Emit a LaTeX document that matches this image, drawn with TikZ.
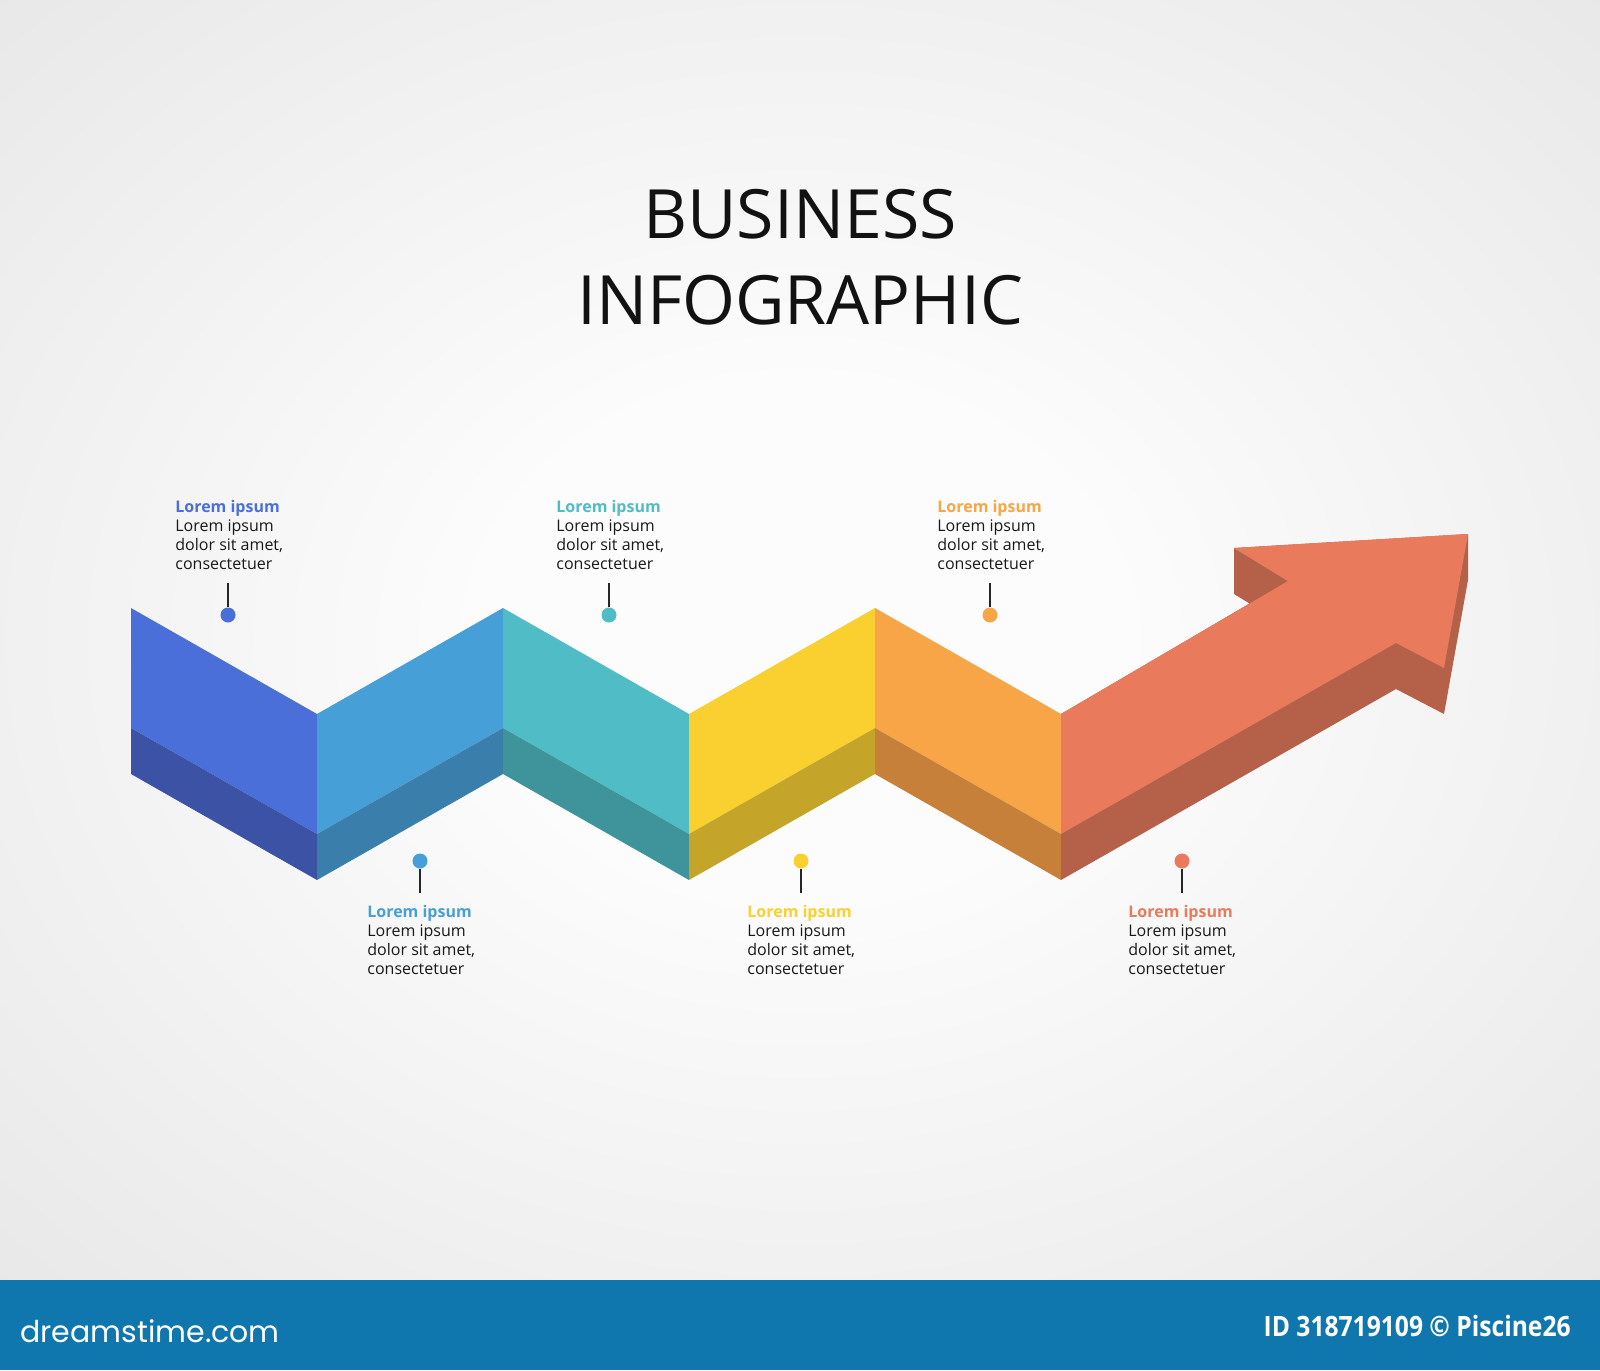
\documentclass[tikz,border=0pt]{standalone}
\usepackage{fontspec}
\setmainfont{Open Sans}
\newfontfamily\bandfont{Poppins}
\usepackage{tikz}

\definecolor{segBlue}{HTML}{4B6FD9}
\definecolor{segBlueD}{HTML}{3B52A5}
\definecolor{segSky}{HTML}{469FD7}
\definecolor{segSkyD}{HTML}{3A7FAC}
\definecolor{segTeal}{HTML}{50BCC5}
\definecolor{segTealD}{HTML}{3F949B}
\definecolor{segYellow}{HTML}{F9D030}
\definecolor{segYellowD}{HTML}{C4A52A}
\definecolor{segOrange}{HTML}{F8A547}
\definecolor{segOrangeD}{HTML}{C6803A}
\definecolor{segRed}{HTML}{E97A5C}
\definecolor{segRedD}{HTML}{B5614A}
\definecolor{bandBlue}{HTML}{0F76AE}
\definecolor{bgOut}{HTML}{DDDDDD}
\definecolor{bgIn}{HTML}{FCFCFC}

\pgfdeclareradialshading{bgglow}{\pgfpoint{0bp}{0bp}}{color(0bp)=(bgIn); color(10bp)=(bgIn); color(50bp)=(bgOut); color(75bp)=(bgOut)}

\tikzset{
  infotext/.style={anchor=base west, align=left, inner sep=0pt, text=black!90, font=\fontsize{8}{9.5}\selectfont},
  titletext/.style={anchor=base, inner sep=0pt, text=black!93, font=\fontsize{34}{40}\selectfont},
  pindot/.style={circle, inner sep=0pt, minimum size=7.5pt},
  pinline/.style={line width=0.8pt, draw=black!85},
}

\begin{document}
\begin{tikzpicture}[x=0.5pt, y=-0.5pt]
  \useasboundingbox (0,0) rectangle (1600,1370);
  \shade[shading=bgglow] (0,0) rectangle (1600,1280);
  \fill[bandBlue] (0,1280) rectangle (1600,1370);

  % title
  \node[titletext] (title1) at (800,238) {BUSINESS};
  \node[titletext] (title2) at (800,324) {INFOGRAPHIC};

  % zigzag band
  \fill[segBlue] (131,608) -- (317,714) -- (317,834) -- (131,728) -- cycle;
  \fill[segBlueD] (131,728) -- (317,834) -- (317,880) -- (131,774) -- cycle;
  \fill[segSky] (317,714) -- (503,608) -- (503,728) -- (317,834) -- cycle;
  \fill[segSkyD] (317,834) -- (503,728) -- (503,774) -- (317,880) -- cycle;
  \fill[segTeal] (503,608) -- (689,714) -- (689,834) -- (503,728) -- cycle;
  \fill[segTealD] (503,728) -- (689,834) -- (689,880) -- (503,774) -- cycle;
  \fill[segYellow] (689,714) -- (875,608) -- (875,728) -- (689,834) -- cycle;
  \fill[segYellowD] (689,834) -- (875,728) -- (875,774) -- (689,880) -- cycle;
  \fill[segOrange] (875,608) -- (1061,714) -- (1061,834) -- (875,728) -- cycle;
  \fill[segOrangeD] (875,728) -- (1061,834) -- (1061,880) -- (875,774) -- cycle;

  % arrow
  \coordinate (p0) at (1061,714);
  \coordinate (n) at (1288,581);
  \coordinate (b) at (1234,548);
  \coordinate (t) at (1468,534);
  \coordinate (l) at (1444,668);
  \coordinate (m) at (1396,643);
  \coordinate (p1) at (1061,834);
  \coordinate (n2) at (1288,627);
  \coordinate (b2) at (1234,594);
  \coordinate (t2) at (1468,580);
  \coordinate (l2) at (1444,714);
  \coordinate (m2) at (1396,689);
  \coordinate (p12) at (1061,880);
  \fill[segRedD] (p0) -- (n) -- (b) -- (t) -- (t2) -- (l2) -- (m2) -- (p12) -- cycle;
  \fill[segRedD] (b) -- (n) -- (n2) -- (b2) -- cycle;
  \fill[segRed] (p0) -- (n) -- (b) -- (t) -- (l) -- (m) -- (p1) -- cycle;

  % pins above
  \node[pindot, fill=segBlue] (dot1) at (228,615) {};
  \node[pindot, fill=segTeal] (dot3) at (609,615) {};
  \node[pindot, fill=segOrange] (dot5) at (990,615) {};
  \coordinate (stem1) at (228,583);
  \coordinate (stem3) at (609,583);
  \coordinate (stem5) at (990,583);
  \draw[pinline] (dot1) -- (stem1);
  \draw[pinline] (dot3) -- (stem3);
  \draw[pinline] (dot5) -- (stem5);

  % pins below
  \node[pindot, fill=segSky] (dot2) at (420,861) {};
  \node[pindot, fill=segYellow] (dot4) at (801,861) {};
  \node[pindot, fill=segRed] (dot6) at (1182,861) {};
  \coordinate (stem2) at (420,893);
  \coordinate (stem4) at (801,893);
  \coordinate (stem6) at (1182,893);
  \draw[pinline] (dot2) -- (stem2);
  \draw[pinline] (dot4) -- (stem4);
  \draw[pinline] (dot6) -- (stem6);

  % texts (placed by the baseline of the last line)
  \node[infotext] (txt1) at (175,569.5) {\textcolor{segBlue}{\bfseries Lorem ipsum}\\Lorem ipsum\\dolor sit amet,\\consectetuer};
  \node[infotext] (txt3) at (556,569.5) {\textcolor{segTeal}{\bfseries Lorem ipsum}\\Lorem ipsum\\dolor sit amet,\\consectetuer};
  \node[infotext] (txt5) at (937,569.5) {\textcolor{segOrange}{\bfseries Lorem ipsum}\\Lorem ipsum\\dolor sit amet,\\consectetuer};
  \node[infotext] (txt2) at (367,974) {\textcolor{segSky}{\bfseries Lorem ipsum}\\Lorem ipsum\\dolor sit amet,\\consectetuer};
  \node[infotext] (txt4) at (747,974) {\textcolor{segYellow}{\bfseries Lorem ipsum}\\Lorem ipsum\\dolor sit amet,\\consectetuer};
  \node[infotext] (txt6) at (1128,974) {\textcolor{segRed}{\bfseries Lorem ipsum}\\Lorem ipsum\\dolor sit amet,\\consectetuer};

  % footer band
  \node[anchor=base west, inner sep=0pt, text=white, font=\bandfont\fontsize{15}{15}\selectfont] (site) at (20,1342) {dreamstime.com};
  \node[anchor=base east, inner sep=0pt, text=white, font=\bfseries\fontsize{14}{14}\selectfont, xscale=0.88, transform shape] (imgid) at (1571,1336) {ID 318719109 © Piscine26};
\end{tikzpicture}
\end{document}
